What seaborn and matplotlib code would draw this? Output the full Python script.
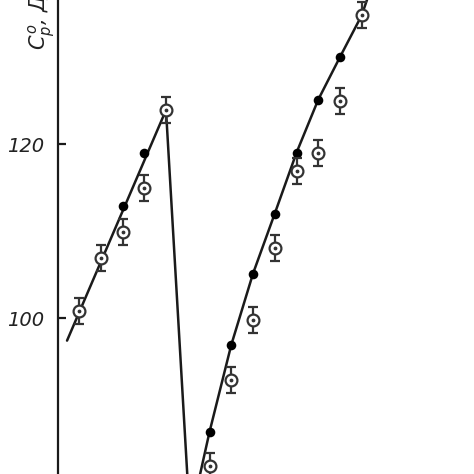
import numpy as np
import pandas as pd
import seaborn as sns
import matplotlib.pyplot as plt

# temperature steps (index units), heat capacity values
t_left_open = [0, 1, 2, 3, 4]
cp_left_open = [100.8, 106.9, 109.9, 114.9, 123.9]
t_left_fill = [2, 3]
cp_left_fill = [112.9, 119.0]

t_right_open = [6, 7, 8, 9, 10, 11, 12, 13]
cp_right_open = [83.0, 92.9, 99.8, 108.0, 116.9, 119.0, 124.9, 134.8]
t_right_fill = [6, 7, 8, 9, 10, 11, 12]
cp_right_fill = [86.9, 96.9, 105.1, 112.0, 119.0, 125.1, 130.0]

# fitted curve (drawn line), with the minimum below the visible range
t_curve = [-0.55, 4, 5.1, 6, 7, 8, 9, 10, 11, 12, 13, 13.3]
cp_curve = [97.4, 123.9, 76.8, 86.9, 96.9, 105.1, 112.0, 119.0, 125.1, 130.0, 134.8, 137.0]

cp_err = 1.5
y_ticks = [100, 120]

sns.set_style("white")
plt.rcParams['font.family'] = ['DejaVu Sans']

fig = plt.figure(figsize=(4.74, 4.74), dpi=100)
ax = fig.add_axes([58 / 474, 0, 1 - 58 / 474, 1])

ink = "#1a1a1a"
curve = pd.DataFrame({"T": t_curve, "Cp": cp_curve})
sns.lineplot(data=curve, x="T", y="Cp", sort=False, color=ink, lw=1.8, ax=ax)

fill = pd.DataFrame({"T": t_left_fill + t_right_fill, "Cp": cp_left_fill + cp_right_fill})
sns.scatterplot(data=fill, x="T", y="Cp", color="black", s=48, edgecolor="black", linewidth=0, zorder=4, ax=ax)

t_open = t_left_open + t_right_open
cp_open = cp_left_open + cp_right_open
ax.errorbar(t_open, cp_open, yerr=cp_err, fmt="o", ms=8.5, mfc="white", mec="#333333", mew=1.6,
            ecolor="#333333", elinewidth=1.6, capsize=3.5, capthick=1.6, zorder=5)
ax.scatter(t_open, cp_open, s=3, color="#333333", zorder=6)

ax.set_yticks(y_ticks)
ax.set_yticklabels([str(v) for v in y_ticks], fontsize=14, fontstyle="italic", color="#222222")
ax.set_xticks([])
ax.set_xlim((58 - 79) / 21.75, (474 - 79) / 21.75)
ax.set_ylim(120 - 330 / 8.7, 120 + 144 / 8.7)
ax.tick_params(axis="y", direction="in", length=6, width=1.6, color=ink, pad=10, left=True)
for side in ["top", "right", "bottom"]:
    ax.spines[side].set_visible(False)
ax.spines["left"].set_linewidth(1.6)
ax.spines["left"].set_color(ink)
ax.set_xlabel("")
ax.set_ylabel("")

fig.text(42 / 474, 1 - 50 / 474, "$C^{o}_{p}$, Дж/(моль·К)", rotation=90, ha="center", va="bottom",
         fontsize=15, fontstyle="italic", color="#222222")

fig.savefig("out.png", dpi=100)
